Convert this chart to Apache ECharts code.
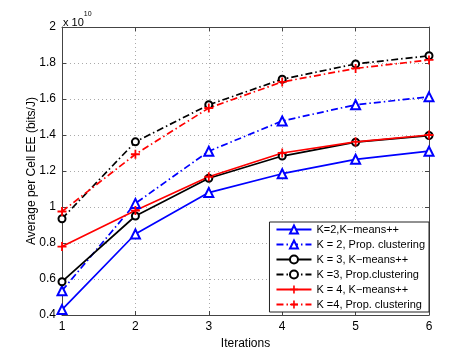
<!DOCTYPE html>
<html>
<head>
<meta charset="utf-8">
<script src="https://cdn.jsdelivr.net/npm/echarts@6/dist/echarts.min.js"></script>
<style>
html,body{margin:0;padding:0;background:#fff;}
#c{width:474px;height:355px;}
</style>
</head>
<body>
<div id="c"></div>
<script>
// Values in units of 1e10 bits/J
var iterations = [1, 2, 3, 4, 5, 6];
var k2KMeans   = [0.43, 0.85, 1.08, 1.185, 1.265, 1.31];
var k2Prop     = [0.535, 1.02, 1.31, 1.478, 1.568, 1.612];
var k3KMeans   = [0.585, 0.95, 1.16, 1.283, 1.36, 1.397];
var k3Prop     = [0.935, 1.362, 1.568, 1.71, 1.795, 1.84];
var k4KMeans   = [0.78, 0.98, 1.168, 1.3, 1.362, 1.4];
var k4Prop     = [0.975, 1.293, 1.55, 1.695, 1.77, 1.817];
var seriesNames = ['K=2,K\u2212means++', 'K = 2, Prop. clustering', 'K = 3, K\u2212means++',
                   'K =3, Prop.clustering', 'K = 4, K\u2212means++', 'K =4, Prop. clustering'];
var yTicks = [0.4, 0.6, 0.8, 1, 1.2, 1.4, 1.6, 1.8, 2];
var xTicks = [1, 2, 3, 4, 5, 6];

var FONT = 'Liberation Sans';
var PLUS = 'path://M4,0L6,0L6,4L10,4L10,6L6,6L6,10L4,10L4,6L0,6L0,4L4,4Z';
var DASHDOT = [7, 3, 1.5, 3];

function pairs(vals) {
  return iterations.map(function (x, i) { return [x, vals[i]]; });
}
function mk(name, vals, color, dashed, symbol, size) {
  var isPlus = symbol === PLUS;
  return {
    name: name,
    type: 'line',
    data: pairs(vals),
    symbol: symbol,
    symbolSize: size,
    showAllSymbol: true,
    lineStyle: { color: color, width: 1.7, type: dashed ? DASHDOT : 'solid' },
    itemStyle: { color: color, borderColor: color, borderWidth: isPlus ? 0 : 1.5 },
    emphasis: { disabled: true },
    z: 3
  };
}

var chart = echarts.init(document.getElementById('c'), null, { renderer: 'canvas' });
chart.setOption({
  animation: false,
  backgroundColor: '#fff',
  textStyle: { fontFamily: FONT },
  title: {
    text: '{a|x 10}{b|10}',
    left: 58, top: 6,
    textStyle: {
      fontWeight: 'normal',
      rich: {
        a: { fontFamily: FONT, fontSize: 11, fontWeight: 'normal', color: '#000', verticalAlign: 'bottom', padding: [6, 0, 0, 0] },
        b: { fontFamily: FONT, fontSize: 7, fontWeight: 'normal', color: '#000', verticalAlign: 'top' }
      }
    }
  },
  grid: { left: 62, right: 45, top: 27, bottom: 40, containLabel: false },
  legend: {
    orient: 'vertical',
    right: 45, bottom: 43,
    itemWidth: 35, itemHeight: 10, itemGap: 2,
    padding: [1, 4, 1, 6],
    backgroundColor: '#fff',
    borderColor: '#222', borderWidth: 1,
    textStyle: { fontFamily: FONT, fontSize: 11, color: '#000', lineHeight: 13 },
    data: seriesNames
  },
  xAxis: [{
    type: 'value', min: 1, max: 6, interval: 1,
    name: 'Iterations', nameLocation: 'middle', nameGap: 22,
    nameTextStyle: { fontFamily: FONT, fontSize: 12, color: '#000' },
    axisLine: { lineStyle: { color: '#444', width: 1 } },
    axisTick: { inside: true, length: 4, lineStyle: { color: '#444' } },
    axisLabel: { color: '#000', fontSize: 12, fontFamily: FONT, margin: 6,
      formatter: function (v) { return xTicks.indexOf(v) >= 0 ? String(v) : ''; } },
    splitLine: { show: true, lineStyle: { color: '#aaa', type: [1, 3], width: 1 } }
  }, {
    type: 'value', min: 1, max: 6, interval: 1, position: 'top',
    axisLine: { show: true, lineStyle: { color: '#444', width: 1 } },
    axisTick: { inside: true, length: 4, lineStyle: { color: '#444' } },
    axisLabel: { show: false }, splitLine: { show: false }
  }],
  yAxis: [{
    type: 'value', min: 0.4, max: 2, interval: 0.2,
    name: 'Average per Cell EE (bits/J)', nameLocation: 'middle', nameGap: 24,
    nameMoveOverlap: false,
    nameTextStyle: { fontFamily: FONT, fontSize: 12, color: '#000' },
    axisLine: { show: true, lineStyle: { color: '#444', width: 1 } },
    axisTick: { show: true, inside: true, length: 4, lineStyle: { color: '#444' } },
    axisLabel: { color: '#000', fontSize: 12, fontFamily: FONT, margin: 6,
      formatter: function (v) {
        var r = Math.round(v * 10) / 10;
        for (var i = 0; i < yTicks.length; i++) { if (Math.abs(yTicks[i] - r) < 1e-6) return String(yTicks[i]); }
        return '';
      } },
    splitLine: { show: true, lineStyle: { color: '#aaa', type: [1, 3], width: 1 } }
  }, {
    type: 'value', min: 0.4, max: 2, interval: 0.2, position: 'right',
    axisLine: { show: true, lineStyle: { color: '#444', width: 1 } },
    axisTick: { show: true, inside: true, length: 4, lineStyle: { color: '#444' } },
    axisLabel: { show: false }, splitLine: { show: false }
  }],
  series: [
    mk(seriesNames[0], k2KMeans, '#0000ff', false, 'emptyTriangle', 9),
    mk(seriesNames[1], k2Prop,   '#0000ff', true,  'emptyTriangle', 9),
    mk(seriesNames[2], k3KMeans, '#000000', false, 'emptyCircle', 7),
    mk(seriesNames[3], k3Prop,   '#000000', true,  'emptyCircle', 7),
    mk(seriesNames[4], k4KMeans, '#ff0000', false, PLUS, 9),
    mk(seriesNames[5], k4Prop,   '#ff0000', true,  PLUS, 9)
  ]
});
</script>
</body>
</html>
